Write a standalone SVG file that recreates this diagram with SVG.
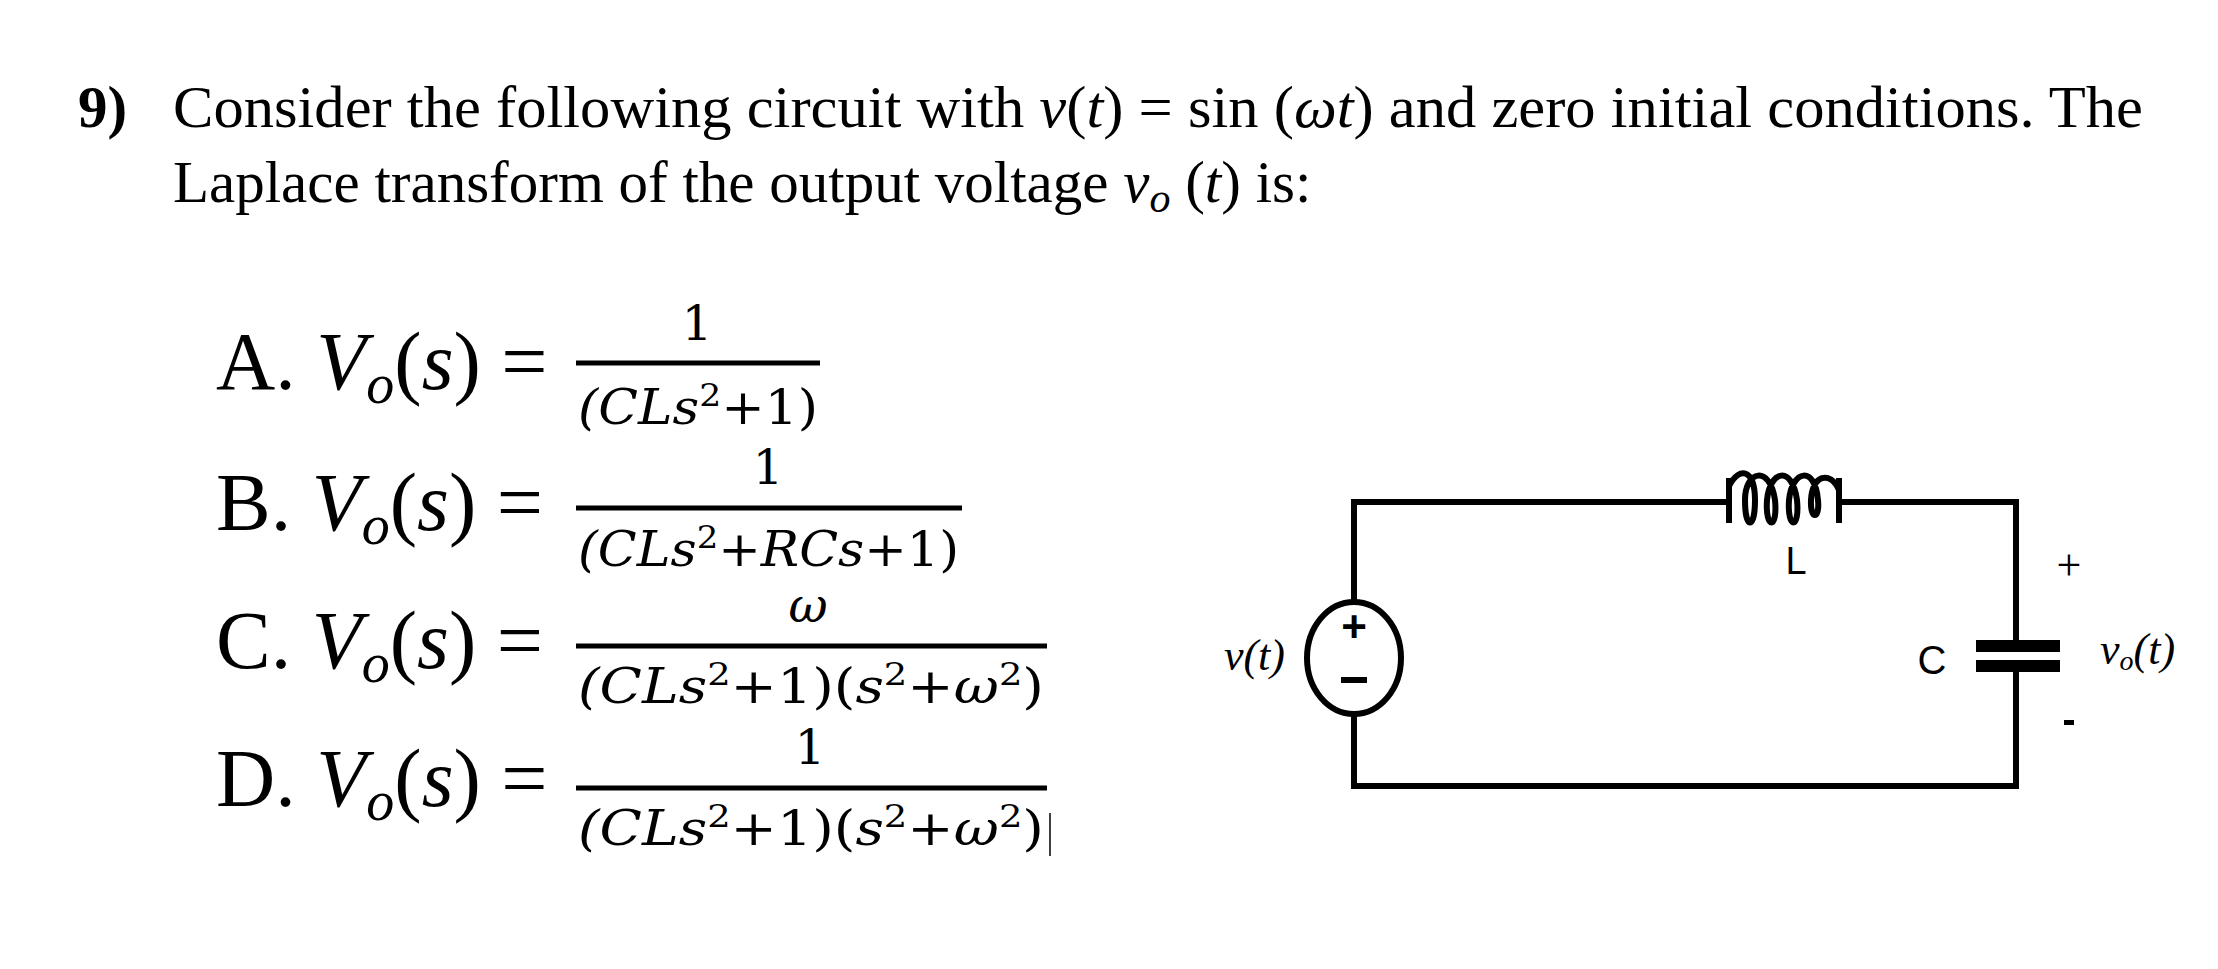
<svg xmlns="http://www.w3.org/2000/svg" width="2218" height="969" viewBox="0 0 2218 969">
<style>
.t{font-family:"Liberation Serif",serif;font-size:59px;fill:#000}
.e{font-family:"Liberation Serif",serif;font-size:82px;fill:#000}
.d{font-family:"DejaVu Serif","Liberation Serif",serif;font-style:italic;font-size:48px;fill:#000}
.n{font-family:"DejaVu Serif","Liberation Serif",serif;font-size:48px;fill:#000}
.w{fill:none;stroke:#000;stroke-width:6}
.s{font-family:"Liberation Sans",sans-serif;fill:#000}
</style>
<rect width="2218" height="969" fill="#fff"/>
<g id="question">
<text class="t" x="78" y="127" font-weight="bold">9)</text>
<text class="t" x="173" y="127" textLength="1970" lengthAdjust="spacingAndGlyphs">Consider the following circuit with <tspan font-style="italic">v</tspan>(<tspan font-style="italic">t</tspan>) = sin (<tspan font-style="italic">ωt</tspan>) and zero initial conditions. The</text>
<text class="t" x="173" y="202">Laplace transform of the output voltage <tspan font-style="italic">v</tspan><tspan font-style="italic" font-size="42" dy="10">o</tspan><tspan dy="-10"> (</tspan><tspan font-style="italic">t</tspan>) is:</text>
</g>
<g id="optA">
<text class="e" x="216" y="389">A. <tspan font-style="italic">V</tspan><tspan font-style="italic" font-size="56" dy="14">o</tspan><tspan dy="-14">(</tspan><tspan font-style="italic">s</tspan>) =</text>
<text class="n" x="697" y="340" text-anchor="middle">1</text>
<line x1="576" y1="363" x2="820" y2="363" stroke="#000" stroke-width="5"/>
<text class="d" x="578" y="424" textLength="240" lengthAdjust="spacingAndGlyphs">(CLs<tspan font-size="32" dy="-18" font-style="normal">2</tspan><tspan dy="18" font-style="normal">+1)</tspan></text>
</g>
<g id="optB">
<text class="e" x="216" y="530">B. <tspan font-style="italic">V</tspan><tspan font-style="italic" font-size="56" dy="14">o</tspan><tspan dy="-14">(</tspan><tspan font-style="italic">s</tspan>) =</text>
<text class="n" x="768" y="484" text-anchor="middle">1</text>
<line x1="576" y1="508" x2="962" y2="508" stroke="#000" stroke-width="5"/>
<text class="d" x="578" y="566" textLength="381" lengthAdjust="spacingAndGlyphs">(CLs<tspan font-size="32" dy="-18" font-style="normal">2</tspan><tspan dy="18" font-style="normal">+</tspan>RCs<tspan font-style="normal">+1)</tspan></text>
</g>
<g id="optC">
<text class="e" x="216" y="668">C. <tspan font-style="italic">V</tspan><tspan font-style="italic" font-size="56" dy="14">o</tspan><tspan dy="-14">(</tspan><tspan font-style="italic">s</tspan>) =</text>
<text class="d" x="808" y="622" text-anchor="middle">ω</text>
<line x1="576" y1="646" x2="1047" y2="646" stroke="#000" stroke-width="5"/>
<text class="d" x="578" y="703" textLength="466" lengthAdjust="spacingAndGlyphs">(CLs<tspan font-size="32" dy="-18" font-style="normal">2</tspan><tspan dy="18" font-style="normal">+1)(</tspan>s<tspan font-size="32" dy="-18" font-style="normal">2</tspan><tspan dy="18" font-style="normal">+</tspan>ω<tspan font-size="32" dy="-18" font-style="normal">2</tspan><tspan dy="18" font-style="normal">)</tspan></text>
</g>
<g id="optD">
<text class="e" x="216" y="806">D. <tspan font-style="italic">V</tspan><tspan font-style="italic" font-size="56" dy="14">o</tspan><tspan dy="-14">(</tspan><tspan font-style="italic">s</tspan>) =</text>
<text class="n" x="810" y="764" text-anchor="middle">1</text>
<line x1="576" y1="788" x2="1047" y2="788" stroke="#000" stroke-width="5"/>
<text class="d" x="578" y="845" textLength="466" lengthAdjust="spacingAndGlyphs">(CLs<tspan font-size="32" dy="-18" font-style="normal">2</tspan><tspan dy="18" font-style="normal">+1)(</tspan>s<tspan font-size="32" dy="-18" font-style="normal">2</tspan><tspan dy="18" font-style="normal">+</tspan>ω<tspan font-size="32" dy="-18" font-style="normal">2</tspan><tspan dy="18" font-style="normal">)</tspan></text>
<line x1="1050" y1="813" x2="1050" y2="856" stroke="#000" stroke-width="1.5"/>
</g>
<g id="connectors">
<polyline class="w" points="1354,601 1354,502 1729,502"/>
<polyline class="w" points="1839,502 2016,502 2016,642"/>
<polyline class="w" points="2016,668 2016,786 1354,786 1354,715"/>
</g>
<g id="source">
<ellipse class="w" cx="1354" cy="658" rx="47" ry="56"/>
<text class="s" x="1354" y="642" text-anchor="middle" font-size="44" font-weight="bold">+</text>
<rect x="1341" y="677" width="26" height="6" fill="#000"/>
<text x="1285" y="670" text-anchor="end" font-family="Liberation Serif,serif" font-style="italic" font-size="44">v(t)</text>
</g>
<g id="inductor">
<path class="w" stroke-width="4" d="M1729,523 V478 M1729,486 C1740,465 1755,470 1755,500 C1755,530 1745,530 1745,500 C1745,470 1770,465 1775,500 C1778,530 1765,530 1767,500 C1770,470 1792,465 1797,500 C1800,530 1787,530 1789,500 C1792,470 1815,465 1818,500 C1820,520 1810,520 1811,500 C1812,475 1830,470 1839,490 M1839,478 V523"/>
<text class="s" x="1796" y="574" text-anchor="middle" font-size="38">L</text>
</g>
<g id="capacitor">
<rect x="1976" y="640" width="84" height="12" fill="#000"/>
<rect x="1976" y="660" width="84" height="12" fill="#000"/>
<text class="s" x="1932" y="674" text-anchor="middle" font-size="40">C</text>
<text x="2069" y="580" text-anchor="middle" font-family="Liberation Serif,serif" font-size="44">+</text>
<rect x="2064" y="720" width="10" height="5" fill="#000"/>
<text x="2100" y="664" font-family="Liberation Serif,serif" font-style="italic" font-size="44">v<tspan font-size="28" dy="6">o</tspan><tspan dy="-6">(t)</tspan></text>
</g>
</svg>
